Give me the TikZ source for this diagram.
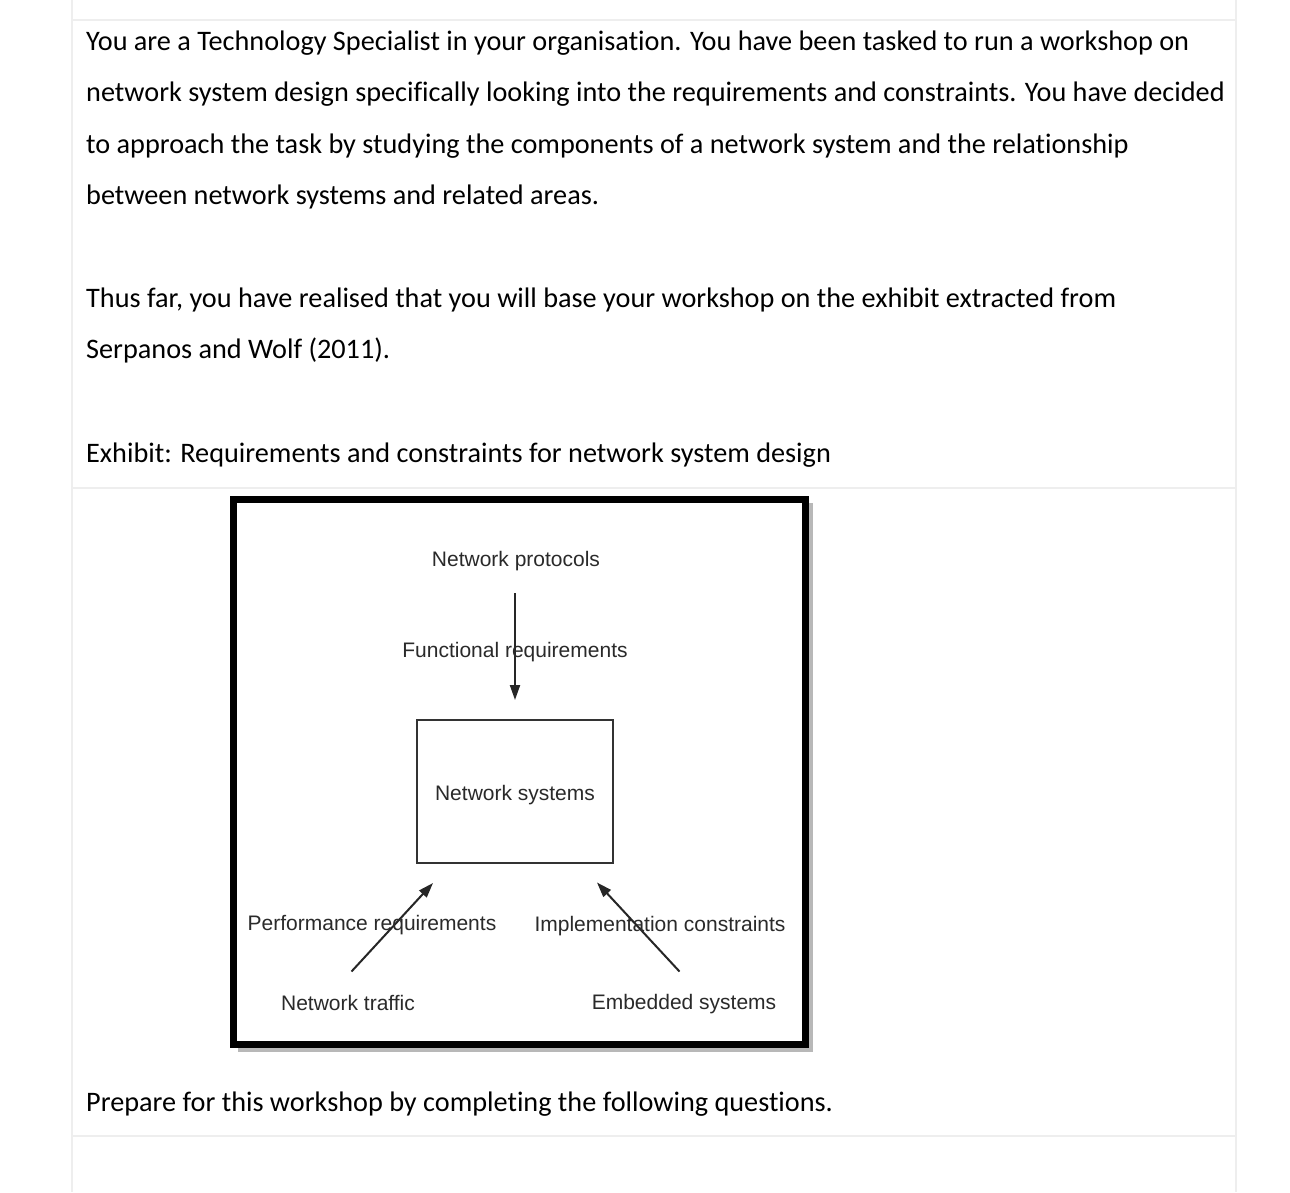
\documentclass[tikz,border=0pt]{standalone}
\usepackage{fontspec}
\setmainfont{Carlito}[Ligatures=CommonOff]
\newfontfamily\diagfont{Liberation Sans}
\usetikzlibrary{arrows.meta}
\definecolor{rule}{HTML}{EEEEEE}
\definecolor{diagtext}{HTML}{2A2A2A}
\tikzset{
  bodytext/.style={anchor=base west, inner sep=0pt, font=\fontsize{28.25}{32}\selectfont, text=black},
  diaglabel/.style={anchor=base, inner sep=0pt, font=\diagfont\fontsize{21}{24}\selectfont, text=diagtext},
  rulex/.style={draw=rule, line width=2pt},
  conn/.style={draw=black!85, line width=2pt, -{Triangle[length=15pt,width=10pt]}}
}
\begin{document}
\begin{tikzpicture}[x=1pt,y=-1pt]
\useasboundingbox[fill=white] (0,0) rectangle (1290,1192);
% page rules
\draw[rulex] (72,0) -- (72,1192);
\draw[rulex] (1236,0) -- (1236,1192);
\draw[rulex] (72,20) -- (1236,20);
\draw[rulex] (72,488) -- (1236,488);
\draw[rulex] (72,1136) -- (1236,1136);
% body text
\node[bodytext] (l1) at (86,50) {You are a Technology Specialist in your organisation. You have been tasked to run a workshop on};
\node[bodytext] (l2) at (86,101.5) {network system design specifically looking into the requirements and constraints. You have decided};
\node[bodytext] (l3) at (86,153) {to approach the task by studying the components of a network system and the relationship};
\node[bodytext] (l4) at (86,204.5) {between network systems and related areas.};
\node[bodytext] (l5) at (86,307) {Thus far, you have realised that you will base your workshop on the exhibit extracted from};
\node[bodytext] (l6) at (86,358.5) {Serpanos and Wolf (2011).};
\node[bodytext] (l7) at (86,462) {Exhibit: Requirements and constraints for network system design};
\node[bodytext] (l8) at (86,1111) {Prepare for this workshop by completing the following questions.};
% exhibit frame with shadow
\draw[black!28, line width=4pt] (810.5,503) -- (810.5,1049.5) -- (238,1049.5);
\draw[black, line width=7pt] (233.5,499) rectangle (805,1044);
% inner box
\node[draw=black!80, line width=1.4pt, minimum width=196pt, minimum height=143pt, inner sep=0pt] (sys) at (515,791.5) {};
\node[diaglabel] (sysl) at (515,800) {Network systems};
% arrows
\coordinate (fa) at (515,593);
\coordinate (fb) at (515,700);
\coordinate (pa) at (351.5,971.5);
\coordinate (pb) at (433,883);
\coordinate (ia) at (679.5,971.5);
\coordinate (ib) at (597,882.5);
\draw[conn] (fa) -- (fb);
\draw[conn] (pa) -- (pb);
\draw[conn] (ia) -- (ib);
% labels
\node[diaglabel] (proto) at (516,566) {Network protocols};
\node[diaglabel] (func) at (515,657.5) {Functional requirements};
\node[diaglabel] (perf) at (372,930) {Performance requirements};
\node[diaglabel] (impl) at (660,931) {Implementation constraints};
\node[diaglabel] (traf) at (348,1010) {Network traffic};
\node[diaglabel] (emb) at (684,1009) {Embedded systems};
\end{tikzpicture}
\end{document}
